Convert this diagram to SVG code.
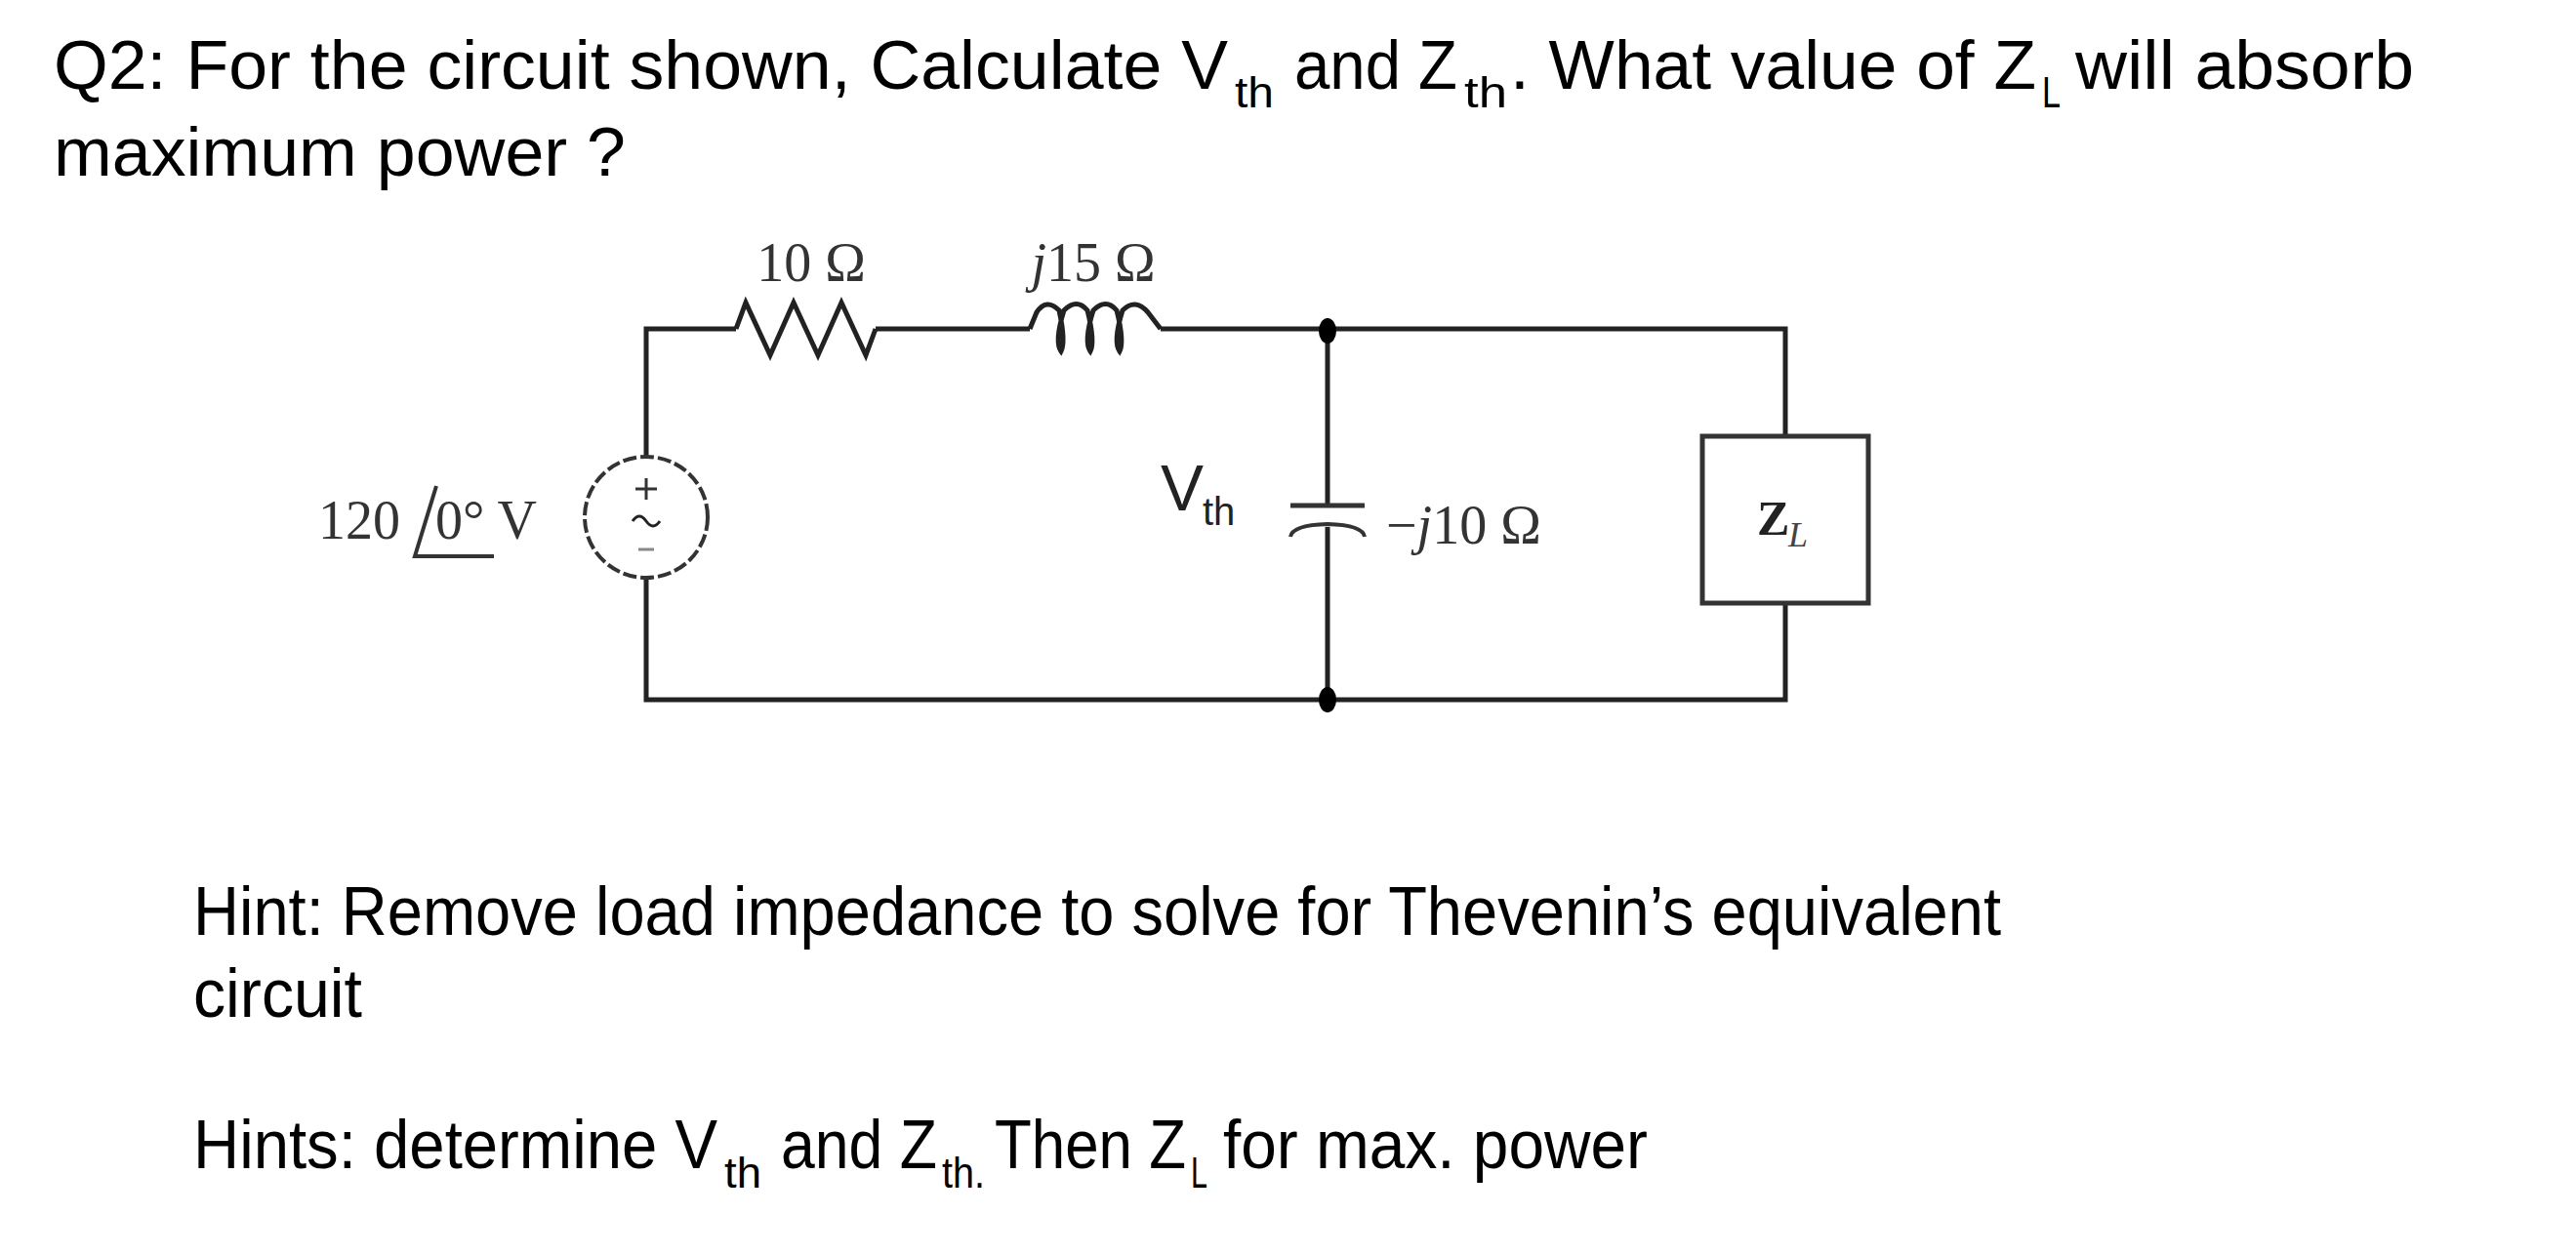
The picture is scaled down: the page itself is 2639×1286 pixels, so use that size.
<svg xmlns="http://www.w3.org/2000/svg" width="2639" height="1286" viewBox="0 0 2639 1286">
<style>
.t{font-family:"Liberation Sans",Arial,sans-serif;font-size:70px;fill:#000}
.s{font-family:"Liberation Sans",Arial,sans-serif;font-size:44px;fill:#000}
.c{font-family:"Liberation Serif","Times New Roman",serif;font-size:56px;fill:#333}
.w{fill:none;stroke:#222;stroke-width:5;stroke-linejoin:miter}
</style>
<rect width="2639" height="1286" fill="#fff"/>
<g id="title">
<text class="t" x="55" y="91" textLength="1203" lengthAdjust="spacingAndGlyphs">Q2: For the circuit shown, Calculate V</text>
<text class="s" x="1265" y="110" textLength="40" lengthAdjust="spacingAndGlyphs">th</text>
<text class="t" x="1326" y="91" textLength="167" lengthAdjust="spacingAndGlyphs">and Z</text>
<text class="s" x="1500" y="110" textLength="44" lengthAdjust="spacingAndGlyphs">th</text>
<text class="t" x="1547" y="91" textLength="539" lengthAdjust="spacingAndGlyphs">. What value of Z</text>
<text class="s" x="2092" y="110" textLength="19" lengthAdjust="spacingAndGlyphs">L</text>
<text class="t" x="2126" y="91" textLength="347" lengthAdjust="spacingAndGlyphs">will absorb</text>
<text class="t" x="55" y="180" textLength="586" lengthAdjust="spacingAndGlyphs">maximum power ?</text>
</g>
<g id="connectors">
<polyline class="w" points="662,468 662,337 754,337"/>
<polyline class="w" points="897,337 1055,337"/>
<polyline class="w" points="1189,337 1829,337 1829,447"/>
<polyline class="w" points="1829,618 1829,717 662,717 662,592"/>
<line class="w" x1="1360" y1="337" x2="1360" y2="517"/>
<line class="w" x1="1360" y1="540" x2="1360" y2="717"/>
<ellipse cx="1360" cy="339" rx="9" ry="13" fill="#000"/>
<ellipse cx="1360" cy="717" rx="9" ry="13" fill="#000"/>
</g>
<g id="resistor">
<polyline class="w" stroke-width="4" points="754,337 764,310 789,364 813,310 838,364 862,310 887,364 897,337"/>
<text class="c" x="831" y="288" text-anchor="middle">10 Ω</text>
</g>
<g id="inductor">
<path class="w" stroke-width="4" d="M1055,337 L1062,320 Q1072,305 1085,318 Q1092,350 1087,360 Q1080,350 1090,318 Q1103,305 1114,318 Q1122,350 1117,360 Q1110,350 1120,318 Q1133,305 1144,318 Q1152,350 1147,360 Q1140,350 1150,318 Q1163,305 1176,320 L1189,337"/>
<text class="c" x="1120" y="288" text-anchor="middle"><tspan font-style="italic">j</tspan>15 Ω</text>
</g>
<g id="source">
<ellipse cx="662" cy="530" rx="63" ry="62" fill="#fff" stroke="#333" stroke-width="4" stroke-dasharray="14 4"/>
<line x1="662" y1="490" x2="662" y2="512" stroke="#333" stroke-width="3"/>
<line x1="651" y1="501" x2="673" y2="501" stroke="#333" stroke-width="3"/>
<path d="M648,534 q7,-10 14,0 t14,0" fill="none" stroke="#222" stroke-width="3"/>
<line x1="654" y1="563" x2="670" y2="563" stroke="#888" stroke-width="3"/>
<text class="c" x="326" y="552">120</text>
<polyline points="447,498 425,570 506,570" fill="none" stroke="#333" stroke-width="4"/>
<text class="c" x="446" y="552">0° V</text>
</g>
<g id="vth">
<text font-family="'Liberation Sans',Arial,sans-serif" font-size="66" x="1189" y="523" fill="#222">V</text>
<text font-family="'Liberation Sans',Arial,sans-serif" font-size="40" x="1232" y="538" fill="#222">th</text>
</g>
<g id="capacitor">
<line x1="1322" y1="518" x2="1398" y2="518" stroke="#333" stroke-width="5"/>
<path d="M1322,550 Q1324,538 1360,537 Q1396,538 1398,550" fill="none" stroke="#333" stroke-width="4"/>
<text class="c" x="1420" y="557">−<tspan font-style="italic">j</tspan>10  Ω</text>
</g>
<g id="load">
<rect x="1744" y="447" width="170" height="171" fill="#fff" stroke="#333" stroke-width="5"/>
<text font-family="'Liberation Serif',serif" font-weight="bold" font-size="50" x="1800" y="548" fill="#222">Z</text>
<text font-family="'Liberation Serif',serif" font-style="italic" font-size="36" x="1832" y="560" fill="#444">L</text>
</g>
<g id="hints">
<text class="t" x="198" y="958" textLength="1852" lengthAdjust="spacingAndGlyphs">Hint: Remove load impedance to solve for Thevenin’s equivalent</text>
<text class="t" x="198" y="1042" textLength="173" lengthAdjust="spacingAndGlyphs">circuit</text>
<text class="t" x="198" y="1197" textLength="537" lengthAdjust="spacingAndGlyphs">Hints: determine V</text>
<text class="s" x="742" y="1217" textLength="38" lengthAdjust="spacingAndGlyphs">th</text>
<text class="t" x="800" y="1197" textLength="160" lengthAdjust="spacingAndGlyphs">and Z</text>
<text class="s" x="965" y="1217" textLength="44" lengthAdjust="spacingAndGlyphs">th.</text>
<text class="t" x="1019" y="1197" textLength="196" lengthAdjust="spacingAndGlyphs">Then Z</text>
<text class="s" x="1220" y="1217" textLength="17" lengthAdjust="spacingAndGlyphs">L</text>
<text class="t" x="1253" y="1197" textLength="435" lengthAdjust="spacingAndGlyphs">for max. power</text>
</g>
</svg>
